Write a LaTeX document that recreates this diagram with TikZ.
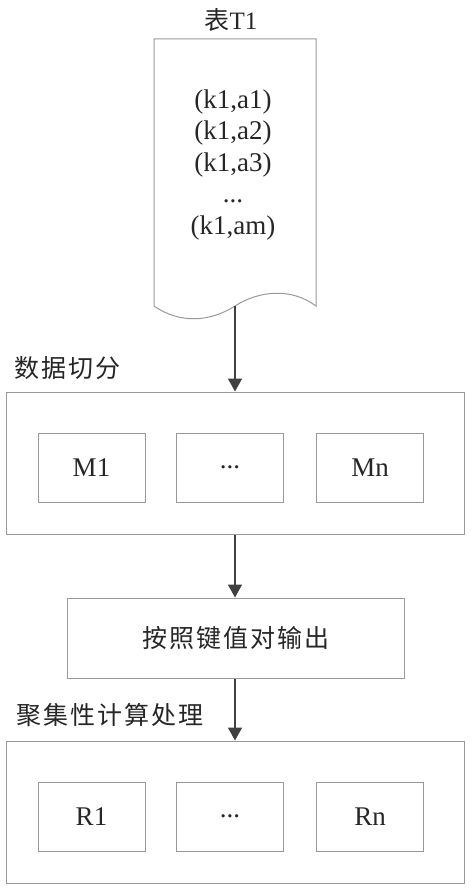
\documentclass[tikz,border=0pt]{standalone}
\usepackage{fontspec}
\setmainfont{Liberation Serif}
\newfontfamily\cjk[LetterSpace=8]{Noto Sans CJK SC}
\usetikzlibrary{arrows.meta}

\begin{document}
\begin{tikzpicture}[x=1pt, y=-1pt,
  every node/.style = {text=black!85, inner sep=0pt},
  frame/.style = {shape=rectangle, draw=black!40, line width=1pt,
    minimum width=458pt, minimum height=142pt},
  part/.style = {shape=rectangle, draw=black!40, line width=1pt,
    minimum width=107pt, minimum height=69pt, font=\fontsize{27}{30}\selectfont},
  caption/.style = {anchor=west, font=\cjk\fontsize{25}{27}\selectfont},
  flow/.style = {draw=black!75, line width=1.6pt,
    -{Triangle[length=13pt, width=14pt]}}]
  \useasboundingbox (0,0) rectangle (474,890);

  % input table
  \node[font=\fontsize{25}{27}\selectfont] (title) at (231,20) {{\cjk 表}T1};
  \draw[draw=black!40, line width=1pt] (154,39) -- (316,39) -- (316,306)
    .. controls (292,288) and (260,290) .. (235,306) coordinate (docbot)
    .. controls (210,322) and (180,324) .. (154,306) -- cycle;
  \node[align=center, font=\fontsize{27}{31.5}\selectfont] (rows) at (233,165)
    {(k1,a1)\\(k1,a2)\\(k1,a3)\\...\\(k1,am)};

  % split stage
  \node[caption] (splitlabel) at (14,368) {数据切分};
  \node[frame] (split) at (235,463) {};
  \node[part] (m1) at (91.5,467.5) {M1};
  \node[part] (mdots) at (230,467.5) {...};
  \node[part] (mn) at (370,467.5) {Mn};

  % key value output
  \node[shape=rectangle, draw=black!40, line width=1pt,
    minimum width=337pt, minimum height=80pt,
    font=\cjk\fontsize{25}{27}\selectfont] (emit) at (235.5,638) {按照键值对输出};

  % aggregation stage
  \node[caption] (agglabel) at (16,715) {聚集性计算处理};
  \node[frame] (agg) at (235,812) {};
  \node[part] (r1) at (91.5,816.5) {R1};
  \node[part] (rdots) at (230,816.5) {...};
  \node[part] (rn) at (370,816.5) {Rn};

  \draw[flow] (docbot) -- (split.north);
  \draw[flow] (split.south) -- (split.south |- emit.north);
  \draw[flow] (split.south |- emit.south) -- (agg.north);
\end{tikzpicture}
\end{document}
